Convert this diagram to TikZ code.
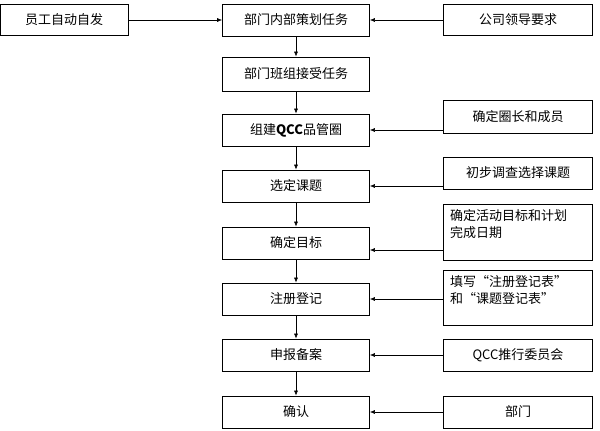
\documentclass[tikz,border=0pt]{standalone}
\usepackage{fontspec}
\setmainfont{Liberation Serif}
\newfontfamily\cjk{Noto Sans CJK SC}
\usetikzlibrary{arrows.meta}
\begin{document}
\begin{tikzpicture}[x=1pt,y=-1pt,
  bx/.style={draw,line width=0.7pt,inner sep=0pt,font=\cjk\fontsize{13}{17}\selectfont},
  ar/.style={-{Latex[length=5pt,width=4pt]},line width=0.6pt}]
\useasboundingbox (0,0) rectangle (600,431);
\fill[white] (0,0) rectangle (600,431);
\newcommand\bxat[5]{\node[bx,minimum width=#3,minimum height=#4] (#1) at (#2) {#5};}
% left
\bxat{l}{64,20}{128pt}{31pt}{员工自动自发}
% center
\bxat{c1}{296,20}{147pt}{32pt}{部门内部策划任务}
\bxat{c2}{296,74}{147pt}{34pt}{部门班组接受任务}
\bxat{c3}{296,130}{147pt}{32pt}{组建\textbf{QCC}品管圈}
\bxat{c4}{296,186}{147pt}{32pt}{选定课题}
\bxat{c5}{296,243}{147pt}{32pt}{确定目标}
\bxat{c6}{296,299}{147pt}{32pt}{注册登记}
\bxat{c7}{296,355}{147pt}{32pt}{申报备案}
\bxat{c8}{296,412}{147pt}{32pt}{确认}
% right
\bxat{r1}{518,20}{149pt}{31pt}{公司领导要求}
\bxat{r2}{518,117}{149pt}{33pt}{确定圈长和成员}
\bxat{r3}{518,173}{149pt}{32pt}{初步调查选择课题}
\node[bx,minimum width=149pt,minimum height=56pt] (r4) at (518,232) {};
\node[font=\cjk\fontsize{13}{17}\selectfont,align=left,anchor=north west,inner sep=0pt] (r4t) at (450,209) {确定活动目标和计划\\完成日期};
\node[bx,minimum width=149pt,minimum height=55pt] (r5) at (518,298) {};
\node[font=\cjk\fontsize{13}{17}\selectfont,align=left,anchor=north west,inner sep=0pt] (r5t) at (450,275) {填写“注册登记表”\\和“课题登记表”};
\bxat{r6}{518,355}{149pt}{32pt}{QCC推行委员会}
\bxat{r7}{518,412}{149pt}{32pt}{部门}
% arrows
\draw[ar] (l) -- (c1);
\draw[ar] (r1) -- (c1);
\foreach \a/\b in {c1/c2,c2/c3,c3/c4,c4/c5,c5/c6,c6/c7,c7/c8} \draw[ar] (\a) -- (\b);
\draw[ar] (r2.west |- c3.east) -- (c3.east);
\draw[ar] (r3.west |- c4.east) -- (c4.east);
\draw[ar] (r4.west |- 0,250) -- (c5.east |- 0,250);
\draw[ar] (r5.west |- c6.east) -- (c6.east);
\draw[ar] (r6) -- (c7);
\draw[ar] (r7) -- (c8);
\end{tikzpicture}
\end{document}
